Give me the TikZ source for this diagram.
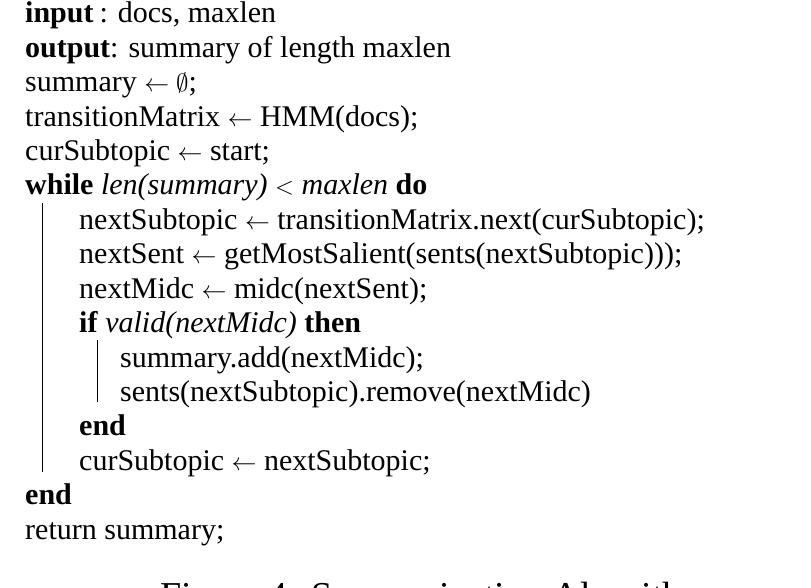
\documentclass[tikz,border=0pt]{standalone}
\usepackage{fontspec}
\usepackage{amssymb}
\setmainfont{Liberation Serif}
\begin{document}
\begin{tikzpicture}[x=1pt,y=-1pt,
  t/.style={anchor=base west,inner sep=0pt,font=\fontsize{30}{33}\selectfont},
  bar/.style={line width=0.9pt}]
\useasboundingbox (0,0) rectangle (811,588);
\clip (0,0) rectangle (811,588);
\def\L#1{23+34.4*#1}
\node[t] (l0) at (25,{\L0}) {\textbf{input}\hspace{6pt}: docs, maxlen};
\node[t] (l1) at (25,{\L1}) {\textbf{output}: summary of length maxlen};
\node[t] (l2) at (25,{\L2}) {summary $\leftarrow\emptyset$;};
\node[t] (l3) at (25,{\L3}) {transitionMatrix $\leftarrow$ HMM(docs);};
\node[t] (l4) at (25,{\L4}) {curSubtopic $\leftarrow$ start;};
\node[t] (l5) at (25,{\L5}) {\textbf{while} \textit{len(summary)} $<$ \textit{maxlen} \textbf{do}};
\node[t] (l6) at (79,{\L6}) {nextSubtopic $\leftarrow$ transitionMatrix.next(curSubtopic);};
\node[t] (l7) at (79,{\L7}) {nextSent $\leftarrow$ getMostSalient(sents(nextSubtopic)));};
\node[t] (l8) at (79,{\L8}) {nextMidc $\leftarrow$ midc(nextSent);};
\node[t] (l9) at (79,{\L9}) {\textbf{if} \textit{valid(nextMidc)} \textbf{then}};
\node[t] (l10) at (120,{\L10}) {summary.add(nextMidc);};
\node[t] (l11) at (120,{\L11}) {sents(nextSubtopic).remove(nextMidc)};
\node[t] (l12) at (79,{\L12}) {\textbf{end}};
\node[t] (l13) at (79,{\L13}) {curSubtopic $\leftarrow$ nextSubtopic;};
\node[t] (l14) at (25,{\L14}) {\textbf{end}};
\node[t] (l15) at (25,{\L15}) {return summary;};
\node[t,font=\fontsize{38}{40}\selectfont] (cap) at (160,608) {Figure 4: Summarization Algorithm};
\coordinate (a1) at (42,203); \coordinate (a2) at (42,472);
\coordinate (b1) at (97,340); \coordinate (b2) at (97,402);
\draw[bar] (a1) -- (a2);
\draw[bar] (b1) -- (b2);
\end{tikzpicture}
\end{document}
